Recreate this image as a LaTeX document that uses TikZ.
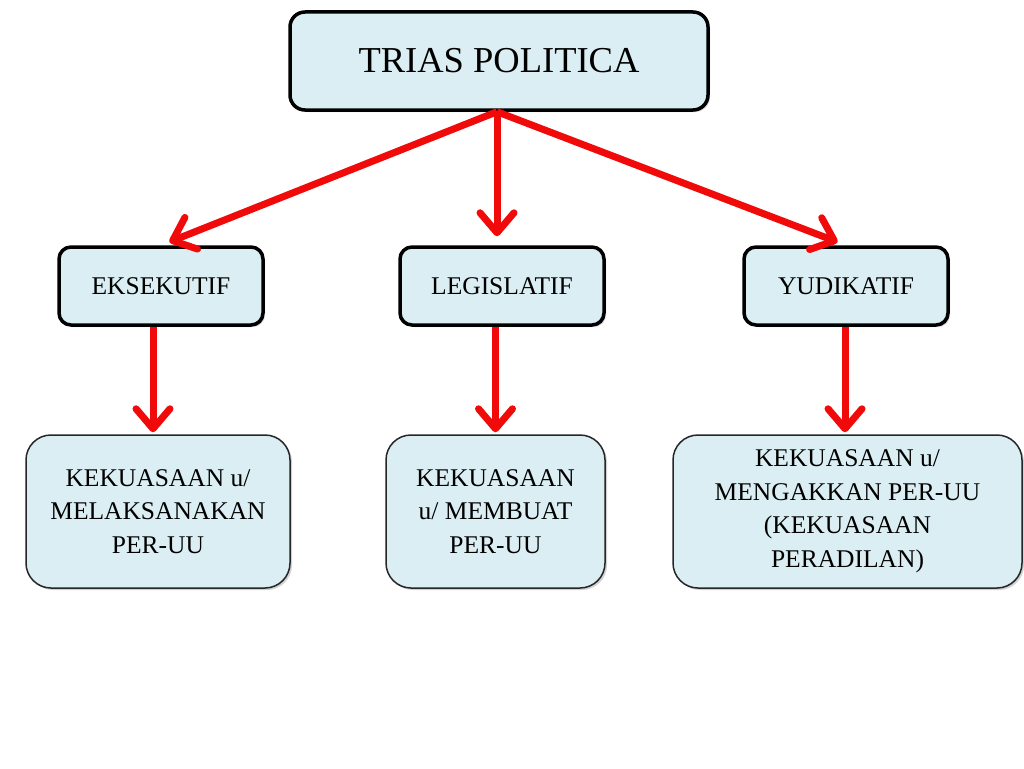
\documentclass[tikz,border=0pt]{standalone}
\usepackage{fontspec}
\setmainfont{Liberation Serif}
\usetikzlibrary{arrows.meta,shadows,positioning}
\definecolor{boxblue}{RGB}{219,238,243}
\definecolor{arrowred}{RGB}{240,10,10}
\tikzset{
  topbox/.style={draw=black, line width=3.5pt, fill=boxblue, rounded corners=15pt,
    inner sep=0pt, align=center,
    drop shadow={shadow xshift=2pt, shadow yshift=-2pt, opacity=0.35}},
  lowbox/.style={draw=black!85, line width=1.5pt, fill=boxblue, rounded corners=25pt,
    inner sep=0pt, align=center, minimum height=153pt,
    font=\fontsize{25.5}{33.5}\selectfont,
    drop shadow={shadow xshift=2pt, shadow yshift=-2pt, opacity=0.35}},
  redarrow/.style={draw=arrowred, line width=7pt,
    -{Straight Barb[length=20pt, width=34pt, line cap=round, line join=round]}}
}
\begin{document}
\begin{tikzpicture}[x=1pt, y=-1pt]
\useasboundingbox (0,0) rectangle (1024,768);
\fill[white] (0,0) rectangle (1024,768);

\node[topbox, minimum width=418pt, minimum height=98pt, font=\fontsize{36.5}{40}\selectfont]
  (top) at (499,61) {TRIAS POLITICA};

\node[topbox, rounded corners=12pt, minimum width=204pt, minimum height=78pt, font=\fontsize{25.5}{30}\selectfont]
  (eks) at (161,286) {EKSEKUTIF};
\node[topbox, rounded corners=12pt, minimum width=204pt, minimum height=78pt, font=\fontsize{25.5}{30}\selectfont]
  (leg) at (502,286) {LEGISLATIF};
\node[topbox, rounded corners=12pt, minimum width=204pt, minimum height=78pt, font=\fontsize{25.5}{30}\selectfont]
  (yud) at (846,286) {YUDIKATIF};

\node[lowbox, minimum width=264pt] (b1) at (158,511.5)
  {KEKUASAAN u/\\MELAKSANAKAN\\PER-UU};
\node[lowbox, minimum width=219pt] (b2) at (495.5,511.5)
  {KEKUASAAN\\u/ MEMBUAT\\PER-UU};
\node[lowbox, minimum width=349pt] (b3) at (847.5,511.5)
  {KEKUASAAN u/\\MENGAKKAN PER-UU\\(KEKUASAAN\\PERADILAN)};

\draw[redarrow, shorten >=9pt] ([xshift=-2pt]top.south) -- (eks.north);
\draw[redarrow, shorten >=9pt] ([xshift=-2pt]top.south) -- ([xshift=-5pt]leg.north);
\draw[redarrow, shorten >=9pt] ([xshift=-2pt]top.south) -- (yud.north);

\draw[redarrow, shorten >=2pt] ([xshift=-8pt]eks.south) -- ([xshift=-8pt]eks.south |- b1.north);
\draw[redarrow, shorten >=2pt] (b2.north |- leg.south) -- (b2.north);
\draw[redarrow, shorten >=2pt] ([xshift=-1pt]yud.south) -- ([xshift=-1pt]yud.south |- b3.north);
\end{tikzpicture}
\end{document}
